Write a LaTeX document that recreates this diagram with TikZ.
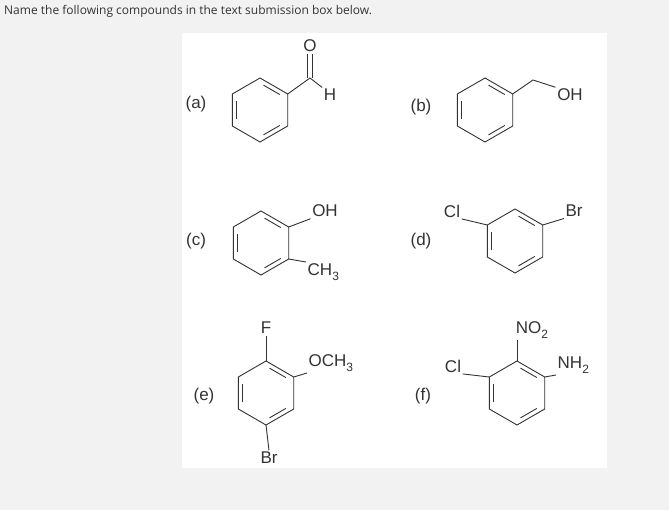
\documentclass[tikz,border=0pt]{standalone}
\usepackage{fontspec}
\setmainfont{Liberation Sans}
\newfontfamily\titlefont{Open Sans}
\usetikzlibrary{calc}
\definecolor{bg}{HTML}{F2F2F2}
\definecolor{ink}{HTML}{333333}
\newcommand\sbs[1]{\raisebox{-0.3em}{\fontsize{12}{12}\selectfont #1}}
\newcommand\benz[3]{%
  \coordinate (#1-c) at (#2,#3);
  \coordinate (#1-1) at (#2,#3-32);
  \coordinate (#1-2) at (#2+27.7,#3-16);
  \coordinate (#1-3) at (#2+27.7,#3+16);
  \coordinate (#1-4) at (#2,#3+32);
  \coordinate (#1-5) at (#2-27.7,#3+16);
  \coordinate (#1-6) at (#2-27.7,#3-16);
  \draw[bond] (#1-1)--(#1-2)--(#1-3)--(#1-4)--(#1-5)--(#1-6)--cycle;
  \foreach \a/\b in {1/2,3/4,5/6}{
    \draw[bond] ($($(#1-\a)!0.15!(#1-\b)$)!0.16!(#1-c)$) -- ($($(#1-\a)!0.85!(#1-\b)$)!0.16!(#1-c)$);}
}
\tikzset{bond/.style={draw=ink,line width=0.9pt,line join=miter},
  lab/.style={font=\fontsize{17}{17}\selectfont,text=ink,inner sep=1pt},
  sub/.style={font=\fontsize{17}{17}\selectfont,text=ink,inner sep=1.5pt}}
\begin{document}
\begin{tikzpicture}[x=1pt,y=-1pt]
\fill[bg] (0,0) rectangle (669,510);
\useasboundingbox (0,0) rectangle (669,510);
\fill[white] (182,33) rectangle (607,468);
\node[anchor=west,font=\titlefont\fontsize{12}{12}\selectfont,text=ink,inner sep=0] (title) at (4,11) {Name the following compounds in the text submission box below.};
% labels
\node[lab] (la) at (196,104) {(a)};
\node[lab] (lb) at (421,107) {(b)};
\node[lab] (lc) at (196,241) {(c)};
\node[lab] (ld) at (421,241) {(d)};
\node[lab] (le) at (204,396) {(e)};
\node[lab] (lf) at (423,396) {(f)};
% (a)
\benz{a}{260}{110}
\coordinate (ac) at (310,78);
\node[sub] (ao) at (310,46) {O};
\node[sub] (ah) at (330,95) {H};
\draw[bond] (a-2) -- (ac) -- (ah.north west);
\draw[bond] ($(ac)+(-2.5,0)$) -- ($(ao.south)+(-2.5,0)$);
\draw[bond] ($(ac)+(2.5,0)$) -- ($(ao.south)+(2.5,0)$);
% (b)
\benz{b}{485}{110}
\coordinate (bc) at (533,80);
\node[sub] (boh) at (570,95) {OH};
\draw[bond] (b-2) -- (bc) -- (boh.north west);
% (c)
\benz{c}{261}{243}
\node[sub] (coh) at (325,211) {OH};
\node[sub,anchor=north west] (cch) at (306,262) {CH\sbs{3}};
\draw[bond] (c-2) -- (coh.south west);
\draw[bond] (c-3) -- (cch.north west);
% (d)
\benz{d}{515}{241}
\node[sub] (dcl) at (452,211) {Cl};
\node[sub] (dbr) at (574,211) {Br};
\draw[bond] (d-6) -- (dcl.south east);
\draw[bond] (d-2) -- (dbr.south west);
% (e)
\benz{e}{266}{393}
\node[sub] (ef) at (266,328) {F};
\node[sub,anchor=south west] (eo) at (307,373) {OCH\sbs{3}};
\node[sub] (ebr) at (269,458) {Br};
\draw[bond] (e-1) -- (ef.south);
\draw[bond] (e-2) -- (eo.south west);
\draw[bond] (e-4) -- (ebr.north);
% (f)
\benz{f}{517}{393}
\node[sub] (fno) at (532,330) {NO\sbs{2}};
\node[sub] (fcl) at (453,366) {Cl};
\node[sub,anchor=south west] (fnh) at (556,375) {NH\sbs{2}};
\draw[bond] (f-1) -- (fno.south -| f-1);
\draw[bond] (f-6) -- (fcl.south east);
\draw[bond] (f-2) -- (fnh.south west);
\end{tikzpicture}
\end{document}
